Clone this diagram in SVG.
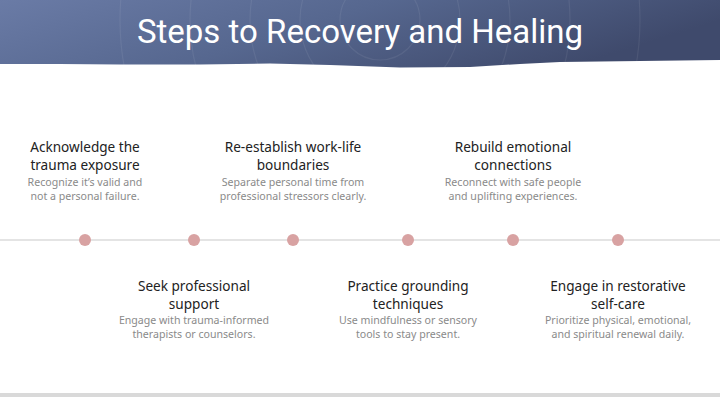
<svg xmlns="http://www.w3.org/2000/svg" width="720" height="405" viewBox="0 0 720 405">
<defs>
<linearGradient id="bannerGrad" x1="0" y1="0" x2="1" y2="0.3">
<stop offset="0" stop-color="#6a7ba6"/>
<stop offset="0.5" stop-color="#56678f"/>
<stop offset="1" stop-color="#3f4a6c"/>
</linearGradient>
<style>
.title{font-family:"Roboto","Open Sans",sans-serif;font-size:33px;fill:#ffffff;text-anchor:middle;}
.head{font-family:"Noto Sans","Open Sans",sans-serif;font-size:13.6px;fill:#222222;text-anchor:middle;}
.desc{font-family:"Noto Sans","Open Sans",sans-serif;font-size:10.6px;fill:#8a8a8a;text-anchor:middle;}
.dot{fill:#d8a2a2;}
.arc{fill:none;stroke:#ffffff;stroke-opacity:0.07;stroke-width:1.2;}
</style>
</defs>
<rect width="720" height="405" fill="#ffffff"/>
<g id="banner">
<path d="M0,0 H720 V60 L640,61 L560,62 L520,64 L470,67 L400,67.5 L330,65 L270,63.5 L200,64.5 L120,64.5 L60,64 L0,64 Z" fill="url(#bannerGrad)"/>
<circle cx="380" cy="20" r="40" class="arc"/>
<circle cx="380" cy="20" r="80" class="arc"/>
<circle cx="380" cy="20" r="130" class="arc"/>
<circle cx="380" cy="20" r="190" class="arc"/>
<circle cx="380" cy="20" r="260" class="arc"/>
<text class="title" x="360" y="43">Steps to Recovery and Healing</text>
</g>
<g id="connectors">
<line x1="0" y1="240" x2="720" y2="240" stroke="#e4e4e4" stroke-width="2"/>
</g>
<g id="step1">
<circle class="dot" cx="85" cy="240" r="6"/>
<text class="head" x="85" y="152">Acknowledge the</text>
<text class="head" x="85" y="169.5">trauma exposure</text>
<text class="desc" x="85" y="186">Recognize it’s valid and</text>
<text class="desc" x="85" y="199.5">not a personal failure.</text>
</g>
<g id="step2">
<circle class="dot" cx="194" cy="240" r="6"/>
<text class="head" x="194" y="291">Seek professional</text>
<text class="head" x="194" y="308.5">support</text>
<text class="desc" x="194" y="324">Engage with trauma-informed</text>
<text class="desc" x="194" y="337.5">therapists or counselors.</text>
</g>
<g id="step3">
<circle class="dot" cx="293" cy="240" r="6"/>
<text class="head" x="293" y="152">Re-establish work-life</text>
<text class="head" x="293" y="169.5">boundaries</text>
<text class="desc" x="293" y="186">Separate personal time from</text>
<text class="desc" x="293" y="199.5">professional stressors clearly.</text>
</g>
<g id="step4">
<circle class="dot" cx="408" cy="240" r="6"/>
<text class="head" x="408" y="291">Practice grounding</text>
<text class="head" x="408" y="308.5">techniques</text>
<text class="desc" x="408" y="324">Use mindfulness or sensory</text>
<text class="desc" x="408" y="337.5">tools to stay present.</text>
</g>
<g id="step5">
<circle class="dot" cx="513" cy="240" r="6"/>
<text class="head" x="513" y="152">Rebuild emotional</text>
<text class="head" x="513" y="169.5">connections</text>
<text class="desc" x="513" y="186">Reconnect with safe people</text>
<text class="desc" x="513" y="199.5">and uplifting experiences.</text>
</g>
<g id="step6">
<circle class="dot" cx="618" cy="240" r="6"/>
<text class="head" x="618" y="291">Engage in restorative</text>
<text class="head" x="618" y="308.5">self-care</text>
<text class="desc" x="618" y="324">Prioritize physical, emotional,</text>
<text class="desc" x="618" y="337.5">and spiritual renewal daily.</text>
</g>
<rect x="0" y="393" width="720" height="4" fill="#d9d9d9"/>
</svg>
